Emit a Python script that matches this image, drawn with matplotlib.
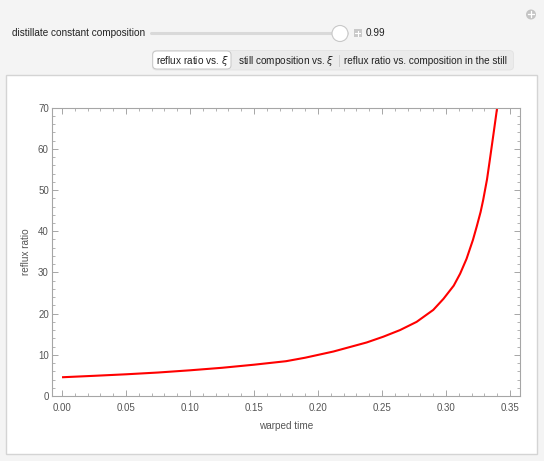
import matplotlib
matplotlib.use("Agg")
import matplotlib.pyplot as plt
from matplotlib.patches import Rectangle, FancyBboxPatch, Ellipse
from matplotlib.lines import Line2D
from matplotlib.ticker import MultipleLocator

# values
warped_time = [0.0, 0.025, 0.05, 0.075, 0.10, 0.125, 0.15, 0.175, 0.19, 0.212,
               0.238, 0.251, 0.264, 0.277, 0.290, 0.298, 0.306, 0.311, 0.316,
               0.321, 0.324, 0.327, 0.329, 0.332, 0.334, 0.337, 0.340]
reflux_ratio = [4.55, 4.9, 5.27, 5.7, 6.24, 6.85, 7.6, 8.45, 9.3, 10.8,
                13.0, 14.4, 16.0, 18.0, 20.9, 23.6, 26.8, 29.7, 33.3,
                37.9, 41.2, 44.7, 47.6, 52.6, 56.9, 63.5, 70.2]

slider_label = "distillate constant composition"
slider_value = "0.99"
tabs = [r"reflux ratio vs. $\xi$", r"still composition vs. $\xi$",
        "reflux ratio vs. composition in the still"]

W, H = 544, 461
plt.rcParams["font.family"] = ["Liberation Sans", "DejaVu Sans"]
plt.rcParams["mathtext.fontset"] = "dejavusans"

fig = plt.figure(figsize=(W / 100, H / 100), dpi=100, facecolor="#f4f4f4")


def fx(x):
    return x / W


def fy(y):
    return 1 - y / H


# white content panel (behind the axes)
panel = Rectangle((fx(6), fy(454)), fx(537) - fx(6), fy(75) - fy(454),
                  transform=fig.transFigure, facecolor="white",
                  edgecolor="#d4d4d4", lw=1.0, zorder=-5)
fig.add_artist(panel)

# top controls
fig.text(fx(12), fy(33.5), slider_label, fontsize=7.2, color="#222222",
         va="center", ha="left")
fig.add_artist(Line2D([fx(151), fx(347)], [fy(33.5), fy(33.5)], color="#d9d9d9",
                      lw=2.2, solid_capstyle="round", transform=fig.transFigure))
fig.add_artist(Ellipse((fx(340), fy(33.5)), 16 / W, 16 / H, transform=fig.transFigure,
                       facecolor="white", edgecolor="#c8c8c8", lw=0.8, zorder=3))
fig.add_artist(Rectangle((fx(353.5), fy(37.5)), 8 / W, 8 / H, transform=fig.transFigure,
                         facecolor="#c9c9c9", edgecolor="none"))
fig.add_artist(Line2D([fx(355), fx(360)], [fy(33.5), fy(33.5)], color="white", lw=0.8,
                      transform=fig.transFigure))
fig.add_artist(Line2D([fx(357.5), fx(357.5)], [fy(31), fy(36)], color="white", lw=0.8,
                      transform=fig.transFigure))
fig.text(fx(365.5), fy(33.5), slider_value, fontsize=7.2, color="#222222",
         va="center", ha="left")

# plus circle at top right
fig.add_artist(Ellipse((fx(531), fy(14.5)), 10 / W, 10 / H, transform=fig.transFigure,
                       facecolor="#c4c4c4", edgecolor="none"))
fig.add_artist(Line2D([fx(528), fx(534)], [fy(14.5), fy(14.5)], color="white", lw=0.9,
                      transform=fig.transFigure))
fig.add_artist(Line2D([fx(531), fx(531)], [fy(11.5), fy(17.5)], color="white", lw=0.9,
                      transform=fig.transFigure))

# tab bar
fig.add_artist(FancyBboxPatch((fx(152.5), fy(70)), fx(513.5) - fx(152.5), fy(50.5) - fy(70),
                              boxstyle="round,pad=0,rounding_size=0.008",
                              transform=fig.transFigure, facecolor="#ebebeb",
                              edgecolor="#e2e2e2", lw=0.6))
fig.add_artist(FancyBboxPatch((fx(152.7), fy(69)), fx(231) - fx(152.7), fy(51) - fy(69),
                              boxstyle="round,pad=0,rounding_size=0.008",
                              transform=fig.transFigure, facecolor="white",
                              edgecolor="#c6c6c6", lw=0.7))
fig.add_artist(Line2D([fx(338.5), fx(338.5)], [fy(55), fy(66)], color="#cfcfcf", lw=0.7,
                      transform=fig.transFigure))
for cx, label in zip([192, 286, 425.3], tabs):
    fig.text(fx(cx), fy(60.5), label, fontsize=7.2, color="#222222",
             ha="center", va="center")

# plot
ax = fig.add_axes([fx(52.3), fy(396), fx(520.3) - fx(52.3), fy(107.7) - fy(396)])
ax.set_facecolor("white")
ax.plot(warped_time, reflux_ratio, color="#ff0000", lw=1.5,
        solid_capstyle="butt", solid_joinstyle="round")
ax.set_xlim(-0.0076, 0.358)
ax.set_ylim(0, 70)
ax.xaxis.set_major_locator(MultipleLocator(0.05))
ax.xaxis.set_minor_locator(MultipleLocator(0.01))
ax.yaxis.set_major_locator(MultipleLocator(10))
ax.yaxis.set_minor_locator(MultipleLocator(2))
ax.xaxis.set_major_formatter(plt.FuncFormatter(lambda v, p: f"{v:.2f}"))
for s in ax.spines.values():
    s.set_color("#a6a6a6")
    s.set_linewidth(0.8)
ax.tick_params(which="both", direction="in", top=True, right=True, color="#a6a6a6",
               labelsize=7.0, labelcolor="#555555")
ax.tick_params(which="major", length=4, width=0.7)
ax.tick_params(which="minor", length=2.2, width=0.6)
ax.tick_params(axis="x", pad=5)
ax.tick_params(axis="y", pad=2.5)
ax.set_xlabel("warped time", fontsize=7.2, color="#555555", labelpad=6)
ax.set_ylabel("reflux ratio", fontsize=7.2, color="#555555", labelpad=5)

fig.savefig("out.png", dpi=100, facecolor=fig.get_facecolor())
